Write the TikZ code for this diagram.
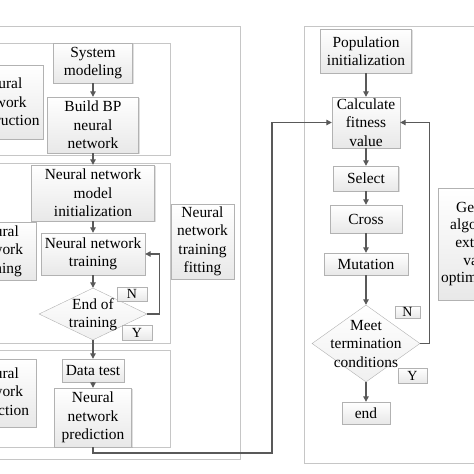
\documentclass[tikz,border=0pt]{standalone}
\usepackage{fontspec}
\setmainfont{Liberation Serif}
\usetikzlibrary{arrows.meta,shapes.geometric,shadows}

\begin{document}
\begin{tikzpicture}[x=1bp,y=-1bp,
        font=\fontsize{15.5}{18.5}\selectfont,
        box/.style={draw=gray!60, top color=white, bottom color=gray!18, align=center, inner sep=1bp,
            drop shadow={shadow xshift=1.2bp, shadow yshift=-1.2bp, opacity=0.25}},
        dia/.style={diamond, draw=gray!60, top color=white, bottom color=gray!12, inner sep=0pt},
        tag/.style={box, font=\fontsize{14}{16}\selectfont, inner sep=0pt},
        frame/.style={draw=gray!45, line width=0.8bp},
        arr/.style={draw=black!65, line width=1.1bp, -{Triangle[length=5.5bp,width=5.5bp]}}]
    \useasboundingbox (0,0) rectangle (474,474);
    \clip (0,0) rectangle (474,474);

    % frames
    \draw[frame] (-5,26) rectangle (240,459);
    \draw[frame] (304,26) rectangle (490,463);
    \draw[frame] (-5,43) rectangle (170,155);
    \draw[frame] (-5,163) rectangle (170,343);
    \draw[frame] (-5,350) rectangle (170,447);

    % left part
    \node[box, anchor=east, minimum width=83bp, minimum height=74bp] (build) at (43,102) {Neural\\network\\construction};
    \node[box, anchor=east, minimum width=76bp, minimum height=58bp] (learn) at (36,251) {Neural\\network\\training};
    \node[box, anchor=east, minimum width=76bp, minimum height=68bp] (guess) at (36,393) {Neural\\network\\prediction};

    \node[box, minimum width=79bp, minimum height=40bp] (sys) at (93,63) {System\\modeling};
    \node[box, minimum width=91bp, minimum height=56bp] (bp) at (93,125) {Build BP\\neural\\network};
    \node[box, minimum width=123bp, minimum height=56bp] (init) at (93,193) {Neural network\\model\\initialization};
    \node[box, minimum width=104bp, minimum height=42bp] (train) at (93,254) {Neural network\\training};
    \node[dia, minimum width=108bp, minimum height=52bp] (endt) at (93,314) {};
    \node[align=center] (endtxt) at (93,315) {End of\\training};
    \node[tag, minimum width=30bp, minimum height=14bp] (n1) at (132,294) {N};
    \node[tag, minimum width=30bp, minimum height=15bp] (y1) at (137,332.5) {Y};
    \node[box, minimum width=63bp, minimum height=75bp] (fit) at (202.5,241.5) {Neural\\network\\training\\fitting};
    \node[box, minimum width=62bp, minimum height=23bp] (test) at (93,370.5) {Data test};
    \node[box, minimum width=77bp, minimum height=59bp] (pred) at (93,417.5) {Neural\\network\\prediction};

    % right part
    \node[box, minimum width=91bp, minimum height=44bp] (pop) at (366,51) {Population\\initialization};
    \node[box, minimum width=68bp, minimum height=51bp] (calc) at (366,122.5) {Calculate\\fitness\\value};
    \node[box, minimum width=65bp, minimum height=25bp] (sel) at (366,178.5) {Select};
    \node[box, minimum width=72bp, minimum height=28bp] (cross) at (366,219) {Cross};
    \node[box, minimum width=84bp, minimum height=22bp] (mut) at (366,264) {Mutation};
    \node[dia, minimum width=108bp, minimum height=77bp] (meet) at (366,343.5) {};
    \node[align=center] (meettxt) at (366,344) {Meet\\termination\\conditions};
    \node[tag, minimum width=25bp, minimum height=12bp] (n2) at (407.5,312) {N};
    \node[tag, minimum width=29bp, minimum height=15bp] (y2) at (412.5,375.5) {Y};
    \node[box, minimum width=48bp, minimum height=22bp] (stop) at (366,413) {end};
    \node[box, anchor=west, text width=78bp, inner xsep=3bp, minimum height=112bp,
        font=\fontsize{15.5}{17.8}\selectfont] (gen) at (438,244) {Genetic\\algorithm\\extreme\\value\\optimization};

    % connectors
    \foreach \a/\b in {sys/bp, bp/init, init/train, train/endt, endt/test, test/pred,
                       pop/calc, calc/sel, sel/cross, cross/mut, mut/meet, meet/stop} {
        \draw[arr] (\a.south) -- (\b.north);
    }
    \draw[arr] (endt.east) -- ++(12,0) |- (train.east);
    \draw[arr] (meet.east) -- ++(9,0) |- (calc.east);
    \coordinate (turn) at (272,453);
    \draw[arr] (pred.south) |- (turn) |- (calc.west);

\end{tikzpicture}
\end{document}
